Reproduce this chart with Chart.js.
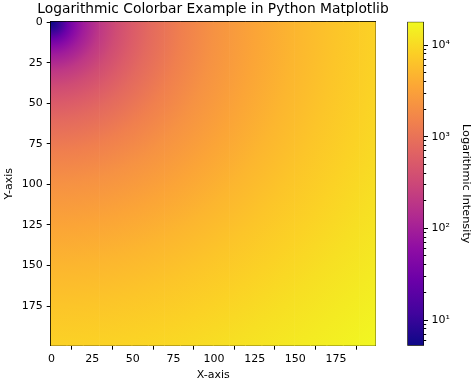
<!DOCTYPE html>
<html><head><meta charset="utf-8">
<script src="https://cdn.jsdelivr.net/npm/chart.js@4.4.0/dist/chart.umd.min.js"></script>
<style>
html,body{margin:0;padding:0;background:#fff;overflow:hidden;}
#wrap{position:relative;width:474px;height:382px;}
#heat{position:absolute;left:0;top:0;}
#cbar{position:absolute;left:395px;top:0;}
</style></head><body>
<div id="wrap"><canvas id="heat" width="426" height="382"></canvas><canvas id="cbar" width="79" height="382"></canvas></div>
<script>
const chartTitle = 'Logarithmic Colorbar Example in Python Matplotlib';
const xAxisTitle = 'X-axis';
const yAxisTitle = 'Y-axis';
const colorbarTitle = 'Logarithmic Intensity';
const xTickValues = [0, 25, 50, 75, 100, 125, 150, 175];
const yTickValues = [0, 25, 50, 75, 100, 125, 150, 175];
const imageSize = 200;        // image is 200 x 200 pixels
const columnWidth = 10;       // image drawn as vertical strips of 10 pixels
// intensity grows with distance from the top-left corner (0, 0):
// distance (image pixels) and intensity
const radiusSamples    = [0,   5,  10, 15, 20, 30,  40,  50,  60,  80,   100,  125,  150,  175,  200,  225,   250,   282];
const intensitySamples = [5.3, 10, 27, 54, 91, 200, 350, 545, 780, 1390, 2170, 3380, 4870, 6620, 8650, 10900, 13500, 17200];
const colorbarMin = 5.25;
const colorbarMax = 18000;
const colorbarMajorTicks = [10, 100, 1000, 10000];
const colorbarTickLabels = ['10\u00b9', '10\u00b2', '10\u00b3', '10\u2074'];

// plasma colormap
const plasmaStops = ['#0d0887','#41049d','#6a00a8','#8f0da4','#b12a90','#cc4778','#e16462','#f2844b','#fca636','#fcce25','#f0f921'];
function hexRgb(h){ return [parseInt(h.substr(1,2),16), parseInt(h.substr(3,2),16), parseInt(h.substr(5,2),16)]; }
function plasma(t){
  t = Math.min(1, Math.max(0, t));
  const n = plasmaStops.length - 1;
  const p = t * n;
  const i = Math.min(n - 1, Math.floor(p));
  const f = p - i;
  const a = hexRgb(plasmaStops[i]), b = hexRgb(plasmaStops[i + 1]);
  const c = a.map((v, k) => Math.round(v + (b[k] - v) * f));
  return 'rgb(' + c.join(',') + ')';
}
function logNorm(v){
  const lo = Math.log10(colorbarMin), hi = Math.log10(colorbarMax);
  return (Math.log10(v) - lo) / (hi - lo);
}

Chart.defaults.font.family = "'DejaVu Sans', sans-serif";
Chart.defaults.font.size = 11;
Chart.defaults.color = '#000';

// radial fill built from the intensity profile, centred on data point (0,0)
function heatFill(c){
  const ch = c.chart;
  const xs = ch.scales.x, ys = ch.scales.y;
  if (!xs || !ch.chartArea) return plasmaStops[7];
  const cx = xs.getPixelForValue(0), cy = ys.getPixelForValue(0);
  const rMax = radiusSamples[radiusSamples.length - 1];
  const R = Math.abs(xs.getPixelForValue(rMax) - cx);
  const g = ch.ctx.createRadialGradient(cx, cy, 0, cx, cy, R);
  radiusSamples.forEach((r, k) => g.addColorStop(r / rMax, plasma(logNorm(intensitySamples[k]))));
  return g;
}

const stripCenters = [];
for (let s = 0; s < imageSize / columnWidth; s++) stripCenters.push(s * columnWidth + columnWidth / 2 - 0.5);

const frameAxis = (pos, size) => ({
  type: 'linear', position: pos, display: true,
  ticks: { display: false },
  grid: { drawOnChartArea: false, drawTicks: false },
  border: { display: true, color: '#000', width: 1 },
  afterFit: s => { if (pos === 'top') s.height = size; else s.width = size; }
});

new Chart(document.getElementById('heat'), {
  type: 'bar',
  data: { datasets: [{
    xAxisID: 'x', yAxisID: 'y',
    data: stripCenters.map(x => ({ x: x, y: [-0.5, imageSize - 0.5] })),
    backgroundColor: heatFill,
    borderWidth: 0, barPercentage: 1, categoryPercentage: 1
  }] },
  options: {
    responsive: false, animation: false, events: [], devicePixelRatio: 1,
    layout: { padding: { left: 0, right: 0, top: 0, bottom: 0 } },
    plugins: {
      legend: { display: false }, tooltip: { enabled: false },
      title: { display: true, text: chartTitle, color: '#000', font: { size: 13.8, weight: 'normal' }, padding: { top: 1.5, bottom: 3.6 } }
    },
    scales: {
      x: {
        type: 'linear', position: 'bottom', min: -0.5, max: imageSize - 0.5, offset: false,
        afterBuildTicks: s => { s.ticks = xTickValues.map(v => ({ value: v })); },
        afterFit: s => { s.height = 36.3; },
        ticks: { autoSkip: false, maxRotation: 0, padding: 3, color: '#000' },
        grid: { drawOnChartArea: false, drawTicks: true, tickLength: 4, tickColor: '#000', tickWidth: 1 },
        border: { display: true, color: '#000', width: 1 },
        title: { display: true, text: xAxisTitle, color: '#000', font: { size: 11 }, padding: { top: 0, bottom: 0 } }
      },
      y: {
        type: 'linear', position: 'left', reverse: true, min: -0.5, max: imageSize - 0.5, offset: false,
        afterBuildTicks: s => { s.ticks = yTickValues.map(v => ({ value: v })); },
        afterFit: s => { s.width = 50.7; },
        ticks: { autoSkip: false, padding: 4, color: '#000' },
        grid: { drawOnChartArea: false, drawTicks: true, tickLength: 4, tickColor: '#000', tickWidth: 1 },
        border: { display: true, color: '#000', width: 1 },
        title: { display: true, text: yAxisTitle, color: '#000', font: { size: 11 }, padding: { top: 2.4, bottom: 0 } }
      },
      xTop: frameAxis('top', 0),
      yRight: frameAxis('right', 50.3)
    }
  }
});

const minorTicks = [];
[1, 10, 100, 1000].forEach(d => { for (let m = 2; m <= 9; m++) { const v = m * d; if (v >= colorbarMin && v <= colorbarMax) minorTicks.push(v); } });

new Chart(document.getElementById('cbar'), {
  type: 'bar',
  data: {
    labels: [''],
    datasets: [{
      xAxisID: 'x', yAxisID: 'y',
      data: [[colorbarMin, colorbarMax]],
      backgroundColor: (c) => {
        const ch = c.chart, a = ch.chartArea;
        if (!a) return plasmaStops[5];
        const g = ch.ctx.createLinearGradient(0, a.bottom, 0, a.top);
        plasmaStops.forEach((h, k) => g.addColorStop(k / (plasmaStops.length - 1), h));
        return g;
      },
      borderColor: '#000', borderWidth: 1, borderSkipped: false,
      barPercentage: 1, categoryPercentage: 1
    }]
  },
  options: {
    responsive: false, animation: false, events: [], devicePixelRatio: 1,
    layout: { padding: { left: 12.3, right: 0, top: 21.7, bottom: 36.3 } },
    plugins: { legend: { display: false }, tooltip: { enabled: false }, title: { display: false } },
    scales: {
      x: { display: false },
      yMinor: {
        type: 'logarithmic', position: 'right', weight: 0, min: colorbarMin, max: colorbarMax,
        afterBuildTicks: s => { s.ticks = minorTicks.map(v => ({ value: v })); },
        afterFit: s => { s.width = 0; },
        ticks: { display: false },
        grid: { drawOnChartArea: false, drawTicks: true, tickLength: 2.2, tickColor: '#000', tickWidth: 1 },
        border: { display: false }
      },
      y: {
        type: 'logarithmic', position: 'right', weight: 1, min: colorbarMin, max: colorbarMax,
        afterBuildTicks: s => { s.ticks = colorbarMajorTicks.map(v => ({ value: v })); },
        afterFit: s => { s.width = 50; },
        ticks: { autoSkip: false, padding: 3.5, color: '#000', callback: (v, i) => colorbarTickLabels[i] },
        grid: { drawOnChartArea: false, drawTicks: true, tickLength: 4, tickColor: '#000', tickWidth: 1 },
        border: { display: false },
        title: { display: true, text: colorbarTitle, color: '#000', font: { size: 11.3 }, padding: { top: 1.4, bottom: 0 } }
      }
    }
  }
});
</script>
</body></html>
